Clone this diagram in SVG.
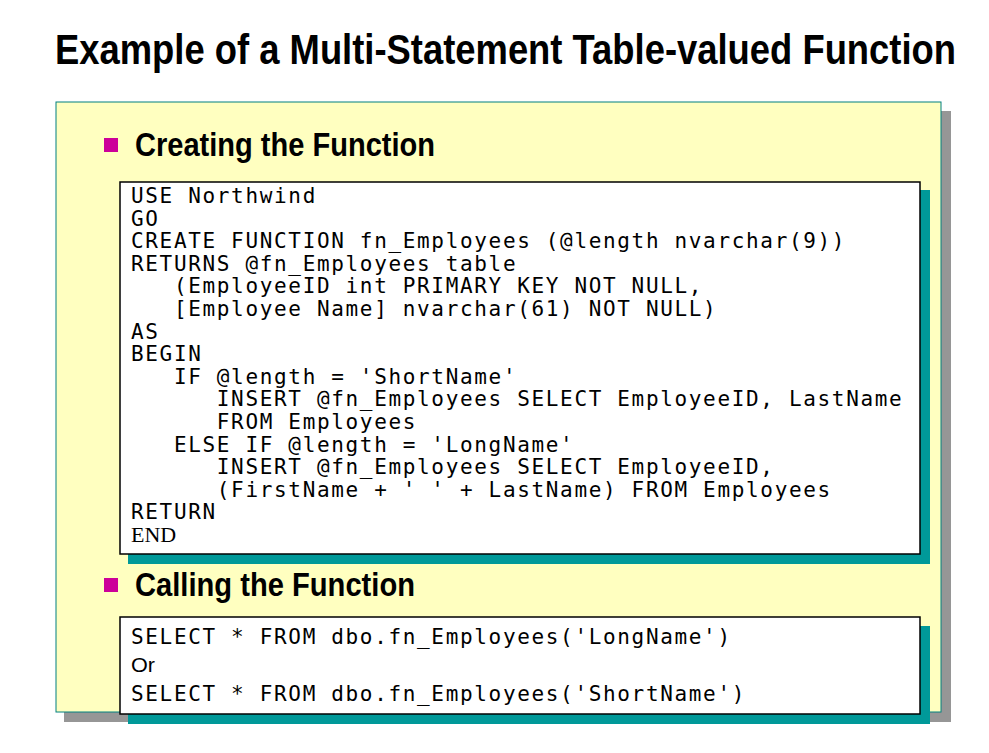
<svg xmlns="http://www.w3.org/2000/svg" width="989" height="753" viewBox="0 0 989 753">
<style>
.t{font-family:"Liberation Sans",Arial,sans-serif;font-weight:bold;fill:#000}
.c{font-family:"DejaVu Sans Mono",monospace;font-size:21px;letter-spacing:1.66px;fill:#000;white-space:pre}
.box{fill:#fff;stroke:#000;stroke-width:1.5}
.sh{fill:#009999}
.b{fill:#cc0099}
</style>
<rect width="989" height="753" fill="#fff"/>
<text class="t" x="55" y="64" font-size="42" textLength="901" lengthAdjust="spacingAndGlyphs">Example of a Multi-Statement Table-valued Function</text>
<g id="panel">
<rect x="64" y="111" width="887" height="611" fill="#969696"/>
<rect x="56" y="102" width="885" height="610" fill="#ffffc0" stroke="#008080" stroke-width="1"/>
</g>
<g id="heading1">
<rect class="b" x="104" y="138" width="14" height="14"/>
<text class="t" x="135" y="156" font-size="33" textLength="300" lengthAdjust="spacingAndGlyphs">Creating the Function</text>
</g>
<g id="code1">
<rect class="sh" x="128" y="190" width="802" height="374"/>
<rect class="box" x="120" y="182" width="800" height="372"/>
<text class="c" x="131" y="203">USE Northwind</text>
<text class="c" x="131" y="225.6">GO</text>
<text class="c" x="131" y="248.2">CREATE FUNCTION fn_Employees (@length nvarchar(9))</text>
<text class="c" x="131" y="270.8">RETURNS @fn_Employees table</text>
<text class="c" x="131" y="293.4">   (EmployeeID int PRIMARY KEY NOT NULL,</text>
<text class="c" x="131" y="316">   [Employee Name] nvarchar(61) NOT NULL)</text>
<text class="c" x="131" y="338.6">AS</text>
<text class="c" x="131" y="361.2">BEGIN</text>
<text class="c" x="131" y="383.8">   IF @length = 'ShortName'</text>
<text class="c" x="131" y="406.4">      INSERT @fn_Employees SELECT EmployeeID, LastName</text>
<text class="c" x="131" y="429">      FROM Employees</text>
<text class="c" x="131" y="451.6">   ELSE IF @length = 'LongName'</text>
<text class="c" x="131" y="474.2">      INSERT @fn_Employees SELECT EmployeeID,</text>
<text class="c" x="131" y="496.8">      (FirstName + ' ' + LastName) FROM Employees</text>
<text class="c" x="131" y="519.4">RETURN</text>
<text x="131" y="542" font-family="Liberation Serif,serif" font-size="22" fill="#000">END</text>
</g>
<g id="heading2">
<rect class="b" x="104" y="578" width="14" height="14"/>
<text class="t" x="135" y="596" font-size="33" textLength="280" lengthAdjust="spacingAndGlyphs">Calling the Function</text>
</g>
<g id="code2">
<rect class="sh" x="128" y="626" width="802" height="98"/>
<rect class="box" x="120" y="617" width="800" height="97"/>
<text class="c" x="131" y="644">SELECT * FROM dbo.fn_Employees('LongName')</text>
<text x="131" y="672" font-family="Liberation Sans,Arial,sans-serif" font-size="20" fill="#000" textLength="24" lengthAdjust="spacingAndGlyphs">Or</text>
<text class="c" x="131" y="701">SELECT * FROM dbo.fn_Employees('ShortName')</text>
</g>
<g id="connectors"/>
</svg>
